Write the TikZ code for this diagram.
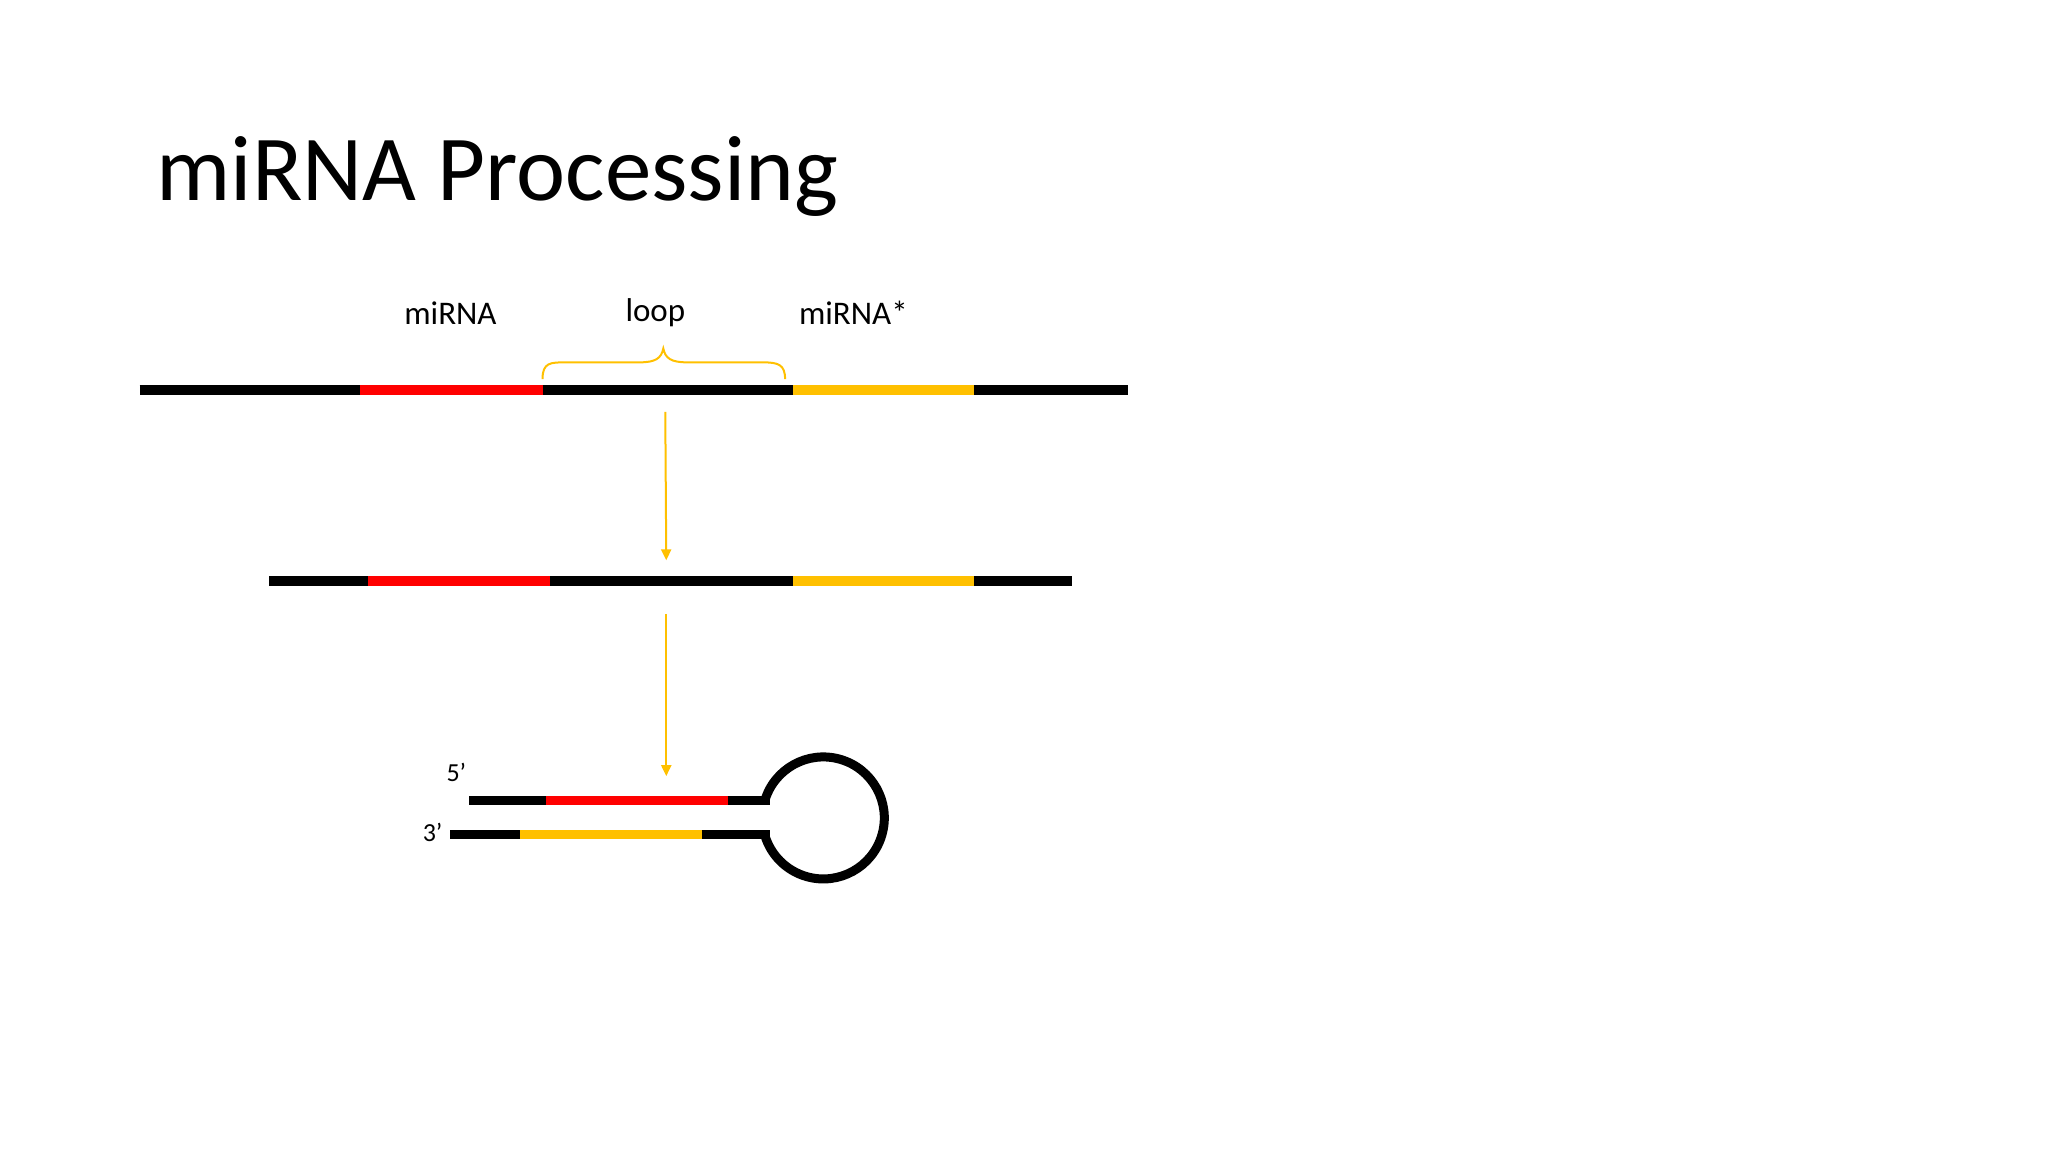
\documentclass[tikz,border=0pt]{standalone}
\usepackage{fontspec}
\setmainfont{Carlito}
\definecolor{myred}{HTML}{FF0000}
\definecolor{myyel}{HTML}{FFC000}
\begin{document}
\begin{tikzpicture}[x=0.99pt,y=-0.99pt,
  seg/.style={line width=10pt,line cap=butt},
  hseg/.style={line width=9pt,line cap=butt},
  lbl/.style={font=\fontsize{33}{38}\selectfont,inner sep=0pt},
  yarrow/.style={myyel,line width=2pt,-{Triangle[length=11pt,width=10pt]}}]
\usetikzlibrary{arrows.meta}
\useasboundingbox (0,0) rectangle (2068.7,1163.6);
\node[anchor=base west,inner sep=0pt,font=\fontsize{93}{110}\selectfont] (title) at (158,203) {miRNA Processing};
% labels
\node[lbl] (l1) at (455,316) {miRNA};
\node[lbl] (l2) at (662,316) {loop};
\node[lbl] (l3) at (862,316) {miRNA*};
% brace
\draw[myyel,line width=2pt] (548,383) .. controls (548,366) and (556,366) .. (572,366) -- (646,366) .. controls (662,366) and (668,362) .. (670,352) .. controls (672,362) and (678,366) .. (694,366) -- (770,366) .. controls (786,366) and (793,368) .. (793,383);
% line 1
\draw[seg,black] (141,394) -- (364,394);
\draw[seg,myred] (364,394) -- (548,394);
\draw[seg,black] (548,394) -- (801,394);
\draw[seg,myyel] (801,394) -- (984,394);
\draw[seg,black] (984,394) -- (1139,394);
\coordinate (a1s) at (672,416);
\coordinate (a1e) at (673,566);
\draw[yarrow] (a1s) -- (a1e);
% line 2
\draw[seg,black] (272,587) -- (372,587);
\draw[seg,myred] (372,587) -- (556,587);
\draw[seg,black] (556,587) -- (801,587);
\draw[seg,myyel] (801,587) -- (984,587);
\draw[seg,black] (984,587) -- (1083,587);
\coordinate (a2s) at (673,620);
\coordinate (a2e) at (673,784);
\draw[yarrow] (a2s) -- (a2e);
% hairpin
\node[lbl,font=\fontsize{26}{30}\selectfont] (p5) at (461,780) {5’};
\node[lbl,font=\fontsize{26}{30}\selectfont] (p3) at (437,841) {3’};
\draw[hseg,black] (474,809) -- (552,809);
\draw[hseg,myred] (552,809) -- (735,809);
\draw[hseg,black] (735,809) -- (778,809);
\draw[hseg,black] (455,843) -- (525,843);
\draw[hseg,myyel] (525,843) -- (709,843);
\draw[hseg,black] (709,843) -- (778,843);
\draw[black,line width=9pt] (772.4,809.2) arc[start angle=164,end angle=-164,radius=61pt];
\end{tikzpicture}
\end{document}
